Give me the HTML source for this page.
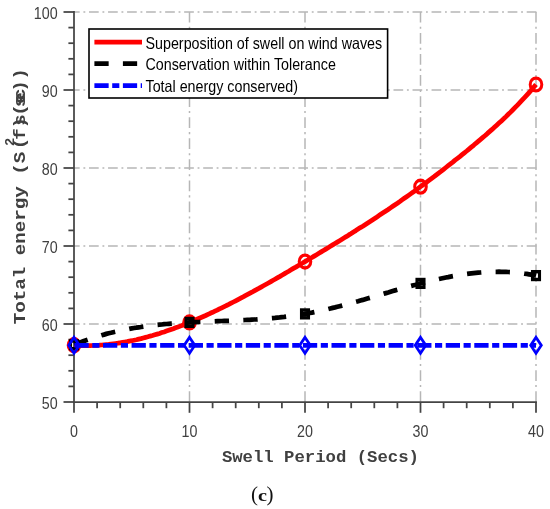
<!DOCTYPE html>
<html><head><meta charset="utf-8"><title>Total energy vs swell period</title>
<style>
html,body{margin:0;padding:0;background:#fff;}
body{width:550px;height:509px;overflow:hidden;}
svg{display:block;}
.tl{font-family:"Liberation Sans",Arial,Helvetica,sans-serif;font-size:14.3px;fill:#404040;}
.lg{font-family:"Liberation Sans",Arial,Helvetica,sans-serif;font-size:14.3px;fill:#000;}
.mono{font-family:"Liberation Mono","Courier New",monospace;font-weight:bold;fill:#404040;}
.cap{font-family:"Liberation Serif","DejaVu Serif",serif;font-size:18px;fill:#111;}
</style></head><body>
<svg width="550" height="509" viewBox="0 0 550 509">
<rect width="550" height="509" fill="#fff"/>

<g stroke="#b6b6b6" stroke-width="1.5" fill="none">
<line x1="189.5" y1="402.0" x2="189.5" y2="12.0" stroke-dasharray="10.75 4.14 2.05 4.14"/>
<line x1="305.0" y1="402.0" x2="305.0" y2="12.0" stroke-dasharray="10.75 4.14 2.05 4.14"/>
<line x1="420.5" y1="402.0" x2="420.5" y2="12.0" stroke-dasharray="10.75 4.14 2.05 4.14"/>
<line x1="536.0" y1="402.0" x2="536.0" y2="12.0" stroke-dasharray="10.75 4.14 2.05 4.14"/>
<line x1="536.4" y1="324.0" x2="74.0" y2="324.0" stroke-dasharray="9.7 3.74 1.85 3.74"/>
<line x1="536.4" y1="246.0" x2="74.0" y2="246.0" stroke-dasharray="9.7 3.74 1.85 3.74"/>
<line x1="536.4" y1="168.0" x2="74.0" y2="168.0" stroke-dasharray="9.7 3.74 1.85 3.74"/>
<line x1="536.4" y1="90.0" x2="74.0" y2="90.0" stroke-dasharray="9.7 3.74 1.85 3.74"/>
<line x1="536.4" y1="12.0" x2="74.0" y2="12.0" stroke-dasharray="9.7 3.74 1.85 3.74"/>
</g>
<g stroke="#444444" stroke-width="1.75" fill="none">
<line x1="74.0" y1="11.1" x2="74.0" y2="402.9"/>
<line x1="73.1" y1="402.0" x2="536.9" y2="402.0"/>
<line x1="63.5" y1="402.0" x2="74.0" y2="402.0"/>
<line x1="68.4" y1="386.4" x2="74.0" y2="386.4"/>
<line x1="68.4" y1="370.8" x2="74.0" y2="370.8"/>
<line x1="68.4" y1="355.2" x2="74.0" y2="355.2"/>
<line x1="68.4" y1="339.6" x2="74.0" y2="339.6"/>
<line x1="63.5" y1="324.0" x2="74.0" y2="324.0"/>
<line x1="68.4" y1="308.4" x2="74.0" y2="308.4"/>
<line x1="68.4" y1="292.8" x2="74.0" y2="292.8"/>
<line x1="68.4" y1="277.2" x2="74.0" y2="277.2"/>
<line x1="68.4" y1="261.6" x2="74.0" y2="261.6"/>
<line x1="63.5" y1="246.0" x2="74.0" y2="246.0"/>
<line x1="68.4" y1="230.4" x2="74.0" y2="230.4"/>
<line x1="68.4" y1="214.8" x2="74.0" y2="214.8"/>
<line x1="68.4" y1="199.2" x2="74.0" y2="199.2"/>
<line x1="68.4" y1="183.6" x2="74.0" y2="183.6"/>
<line x1="63.5" y1="168.0" x2="74.0" y2="168.0"/>
<line x1="68.4" y1="152.4" x2="74.0" y2="152.4"/>
<line x1="68.4" y1="136.8" x2="74.0" y2="136.8"/>
<line x1="68.4" y1="121.2" x2="74.0" y2="121.2"/>
<line x1="68.4" y1="105.6" x2="74.0" y2="105.6"/>
<line x1="63.5" y1="90.0" x2="74.0" y2="90.0"/>
<line x1="68.4" y1="74.4" x2="74.0" y2="74.4"/>
<line x1="68.4" y1="58.8" x2="74.0" y2="58.8"/>
<line x1="68.4" y1="43.2" x2="74.0" y2="43.2"/>
<line x1="68.4" y1="27.6" x2="74.0" y2="27.6"/>
<line x1="63.5" y1="12.0" x2="74.0" y2="12.0"/>
<line x1="74.0" y1="402.0" x2="74.0" y2="412.8"/>
<line x1="97.1" y1="402.0" x2="97.1" y2="408.2"/>
<line x1="120.2" y1="402.0" x2="120.2" y2="408.2"/>
<line x1="143.3" y1="402.0" x2="143.3" y2="408.2"/>
<line x1="166.4" y1="402.0" x2="166.4" y2="408.2"/>
<line x1="189.5" y1="402.0" x2="189.5" y2="412.8"/>
<line x1="212.6" y1="402.0" x2="212.6" y2="408.2"/>
<line x1="235.7" y1="402.0" x2="235.7" y2="408.2"/>
<line x1="258.8" y1="402.0" x2="258.8" y2="408.2"/>
<line x1="281.9" y1="402.0" x2="281.9" y2="408.2"/>
<line x1="305.0" y1="402.0" x2="305.0" y2="412.8"/>
<line x1="328.1" y1="402.0" x2="328.1" y2="408.2"/>
<line x1="351.2" y1="402.0" x2="351.2" y2="408.2"/>
<line x1="374.3" y1="402.0" x2="374.3" y2="408.2"/>
<line x1="397.4" y1="402.0" x2="397.4" y2="408.2"/>
<line x1="420.5" y1="402.0" x2="420.5" y2="412.8"/>
<line x1="443.6" y1="402.0" x2="443.6" y2="408.2"/>
<line x1="466.7" y1="402.0" x2="466.7" y2="408.2"/>
<line x1="489.8" y1="402.0" x2="489.8" y2="408.2"/>
<line x1="512.9" y1="402.0" x2="512.9" y2="408.2"/>
<line x1="536.0" y1="402.0" x2="536.0" y2="412.8"/>
</g>
<path d="M74.0 345.2 L76.3 345.3 L78.6 345.5 L80.9 345.5 L83.2 345.6 L85.5 345.6 L87.9 345.6 L90.2 345.6 L92.5 345.5 L94.8 345.4 L97.1 345.3 L99.4 345.2 L101.7 345.0 L104.0 344.8 L106.3 344.6 L108.7 344.4 L111.0 344.1 L113.3 343.8 L115.6 343.5 L117.9 343.2 L120.2 342.8 L122.5 342.4 L124.8 342.0 L127.1 341.6 L129.4 341.1 L131.8 340.7 L134.1 340.2 L136.4 339.7 L138.7 339.1 L141.0 338.6 L143.3 338.0 L145.6 337.4 L147.9 336.8 L150.2 336.1 L152.5 335.5 L154.8 334.8 L157.2 334.1 L159.5 333.4 L161.8 332.6 L164.1 331.9 L166.4 331.1 L168.7 330.3 L171.0 329.5 L173.3 328.7 L175.6 327.8 L177.9 327.0 L180.3 326.1 L182.6 325.2 L184.9 324.3 L187.2 323.4 L189.5 322.4 L191.8 321.5 L194.1 320.5 L196.4 319.5 L198.7 318.5 L201.1 317.5 L203.4 316.5 L205.7 315.5 L208.0 314.4 L210.3 313.3 L212.6 312.3 L214.9 311.2 L217.2 310.1 L219.5 308.9 L221.8 307.8 L224.2 306.7 L226.5 305.5 L228.8 304.4 L231.1 303.2 L233.4 302.0 L235.7 300.8 L238.0 299.6 L240.3 298.4 L242.6 297.2 L244.9 295.9 L247.2 294.7 L249.6 293.4 L251.9 292.2 L254.2 290.9 L256.5 289.6 L258.8 288.4 L261.1 287.1 L263.4 285.8 L265.7 284.5 L268.0 283.2 L270.4 281.9 L272.7 280.5 L275.0 279.2 L277.3 277.9 L279.6 276.6 L281.9 275.2 L284.2 273.9 L286.5 272.5 L288.8 271.2 L291.1 269.8 L293.4 268.4 L295.8 267.1 L298.1 265.7 L300.4 264.3 L302.7 263.0 L305.0 261.6 L307.3 260.2 L309.6 258.8 L311.9 257.5 L314.2 256.1 L316.6 254.7 L318.9 253.3 L321.2 251.9 L323.5 250.5 L325.8 249.1 L328.1 247.7 L330.4 246.3 L332.7 244.9 L335.0 243.5 L337.3 242.1 L339.6 240.7 L342.0 239.2 L344.3 237.8 L346.6 236.4 L348.9 234.9 L351.2 233.5 L353.5 232.0 L355.8 230.6 L358.1 229.1 L360.4 227.6 L362.8 226.2 L365.1 224.7 L367.4 223.2 L369.7 221.7 L372.0 220.2 L374.3 218.7 L376.6 217.2 L378.9 215.6 L381.2 214.1 L383.5 212.6 L385.9 211.0 L388.2 209.5 L390.5 207.9 L392.8 206.3 L395.1 204.7 L397.4 203.2 L399.7 201.6 L402.0 199.9 L404.3 198.3 L406.6 196.7 L408.9 195.1 L411.3 193.4 L413.6 191.8 L415.9 190.1 L418.2 188.4 L420.5 186.7 L422.8 185.0 L425.1 183.3 L427.4 181.6 L429.7 179.9 L432.1 178.1 L434.4 176.4 L436.7 174.6 L439.0 172.8 L441.3 171.1 L443.6 169.3 L445.9 167.5 L448.2 165.7 L450.5 163.9 L452.8 162.1 L455.1 160.2 L457.5 158.4 L459.8 156.6 L462.1 154.7 L464.4 152.8 L466.7 151.0 L469.0 149.1 L471.3 147.2 L473.6 145.3 L475.9 143.3 L478.2 141.4 L480.6 139.4 L482.9 137.4 L485.2 135.5 L487.5 133.4 L489.8 131.4 L492.1 129.4 L494.4 127.3 L496.7 125.2 L499.0 123.1 L501.4 120.9 L503.7 118.8 L506.0 116.6 L508.3 114.3 L510.6 112.1 L512.9 109.8 L515.2 107.4 L517.5 105.1 L519.8 102.7 L522.1 100.2 L524.5 97.7 L526.8 95.2 L529.1 92.6 L531.4 90.0 L533.7 87.3 L536.0 84.5" fill="none" stroke="#ff0000" stroke-width="4.75" stroke-linejoin="round"/>
<g transform="translate(74.0 345.2) scale(1 1.11)"><circle r="5.8" fill="none" stroke="#ff0000" stroke-width="3"/></g>
<g transform="translate(189.5 322.4) scale(1 1.11)"><circle r="5.8" fill="none" stroke="#ff0000" stroke-width="3"/></g>
<g transform="translate(305.0 261.6) scale(1 1.11)"><circle r="5.8" fill="none" stroke="#ff0000" stroke-width="3"/></g>
<g transform="translate(420.5 186.7) scale(1 1.11)"><circle r="5.8" fill="none" stroke="#ff0000" stroke-width="3"/></g>
<g transform="translate(536.0 84.5) scale(1 1.11)"><circle r="5.8" fill="none" stroke="#ff0000" stroke-width="3"/></g>
<path d="M74.0 344.8 L76.3 343.9 L78.6 343.0 L80.9 342.1 L83.2 341.2 L85.5 340.4 L87.9 339.6 L90.2 338.8 L92.5 338.0 L94.8 337.3 L97.1 336.6 L99.4 335.9 L101.7 335.2 L104.0 334.6 L106.3 333.9 L108.7 333.3 L111.0 332.8 L113.3 332.2 L115.6 331.7 L117.9 331.2 L120.2 330.7 L122.5 330.2 L124.8 329.7 L127.1 329.3 L129.4 328.8 L131.8 328.4 L134.1 328.0 L136.4 327.7 L138.7 327.3 L141.0 327.0 L143.3 326.6 L145.6 326.3 L147.9 326.0 L150.2 325.7 L152.5 325.4 L154.8 325.2 L157.2 324.9 L159.5 324.7 L161.8 324.5 L164.1 324.2 L166.4 324.0 L168.7 323.8 L171.0 323.6 L173.3 323.5 L175.6 323.3 L177.9 323.1 L180.3 323.0 L182.6 322.8 L184.9 322.7 L187.2 322.6 L189.5 322.4 L191.8 322.3 L194.1 322.2 L196.4 322.1 L198.7 322.0 L201.1 321.9 L203.4 321.8 L205.7 321.7 L208.0 321.6 L210.3 321.5 L212.6 321.4 L214.9 321.3 L217.2 321.2 L219.5 321.1 L221.8 321.0 L224.2 320.9 L226.5 320.9 L228.8 320.8 L231.1 320.7 L233.4 320.6 L235.7 320.5 L238.0 320.4 L240.3 320.3 L242.6 320.1 L244.9 320.0 L247.2 319.9 L249.6 319.8 L251.9 319.6 L254.2 319.5 L256.5 319.4 L258.8 319.2 L261.1 319.0 L263.4 318.9 L265.7 318.7 L268.0 318.5 L270.4 318.3 L272.7 318.1 L275.0 317.9 L277.3 317.6 L279.6 317.4 L281.9 317.1 L284.2 316.9 L286.5 316.6 L288.8 316.3 L291.1 316.0 L293.4 315.7 L295.8 315.3 L298.1 315.0 L300.4 314.6 L302.7 314.3 L305.0 313.9 L307.3 313.4 L309.6 313.0 L311.9 312.6 L314.2 312.1 L316.6 311.6 L318.9 311.1 L321.2 310.6 L323.5 310.1 L325.8 309.6 L328.1 309.1 L330.4 308.5 L332.7 307.9 L335.0 307.4 L337.3 306.8 L339.6 306.2 L342.0 305.6 L344.3 305.0 L346.6 304.4 L348.9 303.7 L351.2 303.1 L353.5 302.5 L355.8 301.8 L358.1 301.2 L360.4 300.5 L362.8 299.9 L365.1 299.2 L367.4 298.5 L369.7 297.9 L372.0 297.2 L374.3 296.5 L376.6 295.8 L378.9 295.2 L381.2 294.5 L383.5 293.8 L385.9 293.1 L388.2 292.5 L390.5 291.8 L392.8 291.1 L395.1 290.4 L397.4 289.8 L399.7 289.1 L402.0 288.5 L404.3 287.8 L406.6 287.2 L408.9 286.5 L411.3 285.9 L413.6 285.3 L415.9 284.7 L418.2 284.0 L420.5 283.4 L422.8 282.8 L425.1 282.3 L427.4 281.7 L429.7 281.1 L432.1 280.6 L434.4 280.0 L436.7 279.5 L439.0 279.0 L441.3 278.5 L443.6 278.0 L445.9 277.5 L448.2 277.1 L450.5 276.6 L452.8 276.2 L455.1 275.8 L457.5 275.4 L459.8 275.0 L462.1 274.7 L464.4 274.3 L466.7 274.0 L469.0 273.7 L471.3 273.4 L473.6 273.1 L475.9 272.9 L478.2 272.7 L480.6 272.5 L482.9 272.3 L485.2 272.2 L487.5 272.0 L489.8 271.9 L492.1 271.8 L494.4 271.8 L496.7 271.8 L499.0 271.7 L501.4 271.8 L503.7 271.8 L506.0 271.9 L508.3 272.0 L510.6 272.1 L512.9 272.3 L515.2 272.5 L517.5 272.7 L519.8 273.0 L522.1 273.2 L524.5 273.6 L526.8 273.9 L529.1 274.3 L531.4 274.7 L533.7 275.2 L536.0 275.6" fill="none" stroke="#000" stroke-width="4.75" stroke-dasharray="14.32 14.32" stroke-dashoffset="-0.3"/>
<g transform="translate(74.0 344.8) scale(1 1.11)"><rect x="-3.5" y="-3.5" width="7" height="7" fill="none" stroke="#000" stroke-width="3.1"/></g>
<g transform="translate(189.5 322.4) scale(1 1.11)"><rect x="-3.5" y="-3.5" width="7" height="7" fill="none" stroke="#000" stroke-width="3.1"/></g>
<g transform="translate(305.0 313.9) scale(1 1.11)"><rect x="-3.5" y="-3.5" width="7" height="7" fill="none" stroke="#000" stroke-width="3.1"/></g>
<g transform="translate(420.5 283.4) scale(1 1.11)"><rect x="-3.5" y="-3.5" width="7" height="7" fill="none" stroke="#000" stroke-width="3.1"/></g>
<g transform="translate(536.0 275.6) scale(1 1.11)"><rect x="-3.5" y="-3.5" width="7" height="7" fill="none" stroke="#000" stroke-width="3.1"/></g>
<path d="M74.0 345.3 L536.0 345.3" fill="none" stroke="#0000ff" stroke-width="4.75" stroke-dasharray="14.28 3.57 7.14 3.57" stroke-dashoffset="-0.45"/>
<g transform="translate(74.0 345.3) scale(1 1.11)"><path d="M0 -7.2 L5.3 0 L0 7.2 L-5.3 0 Z" fill="none" stroke="#0000ff" stroke-width="2.7"/></g>
<g transform="translate(189.5 345.3) scale(1 1.11)"><path d="M0 -7.2 L5.3 0 L0 7.2 L-5.3 0 Z" fill="none" stroke="#0000ff" stroke-width="2.7"/></g>
<g transform="translate(305.0 345.3) scale(1 1.11)"><path d="M0 -7.2 L5.3 0 L0 7.2 L-5.3 0 Z" fill="none" stroke="#0000ff" stroke-width="2.7"/></g>
<g transform="translate(420.5 345.3) scale(1 1.11)"><path d="M0 -7.2 L5.3 0 L0 7.2 L-5.3 0 Z" fill="none" stroke="#0000ff" stroke-width="2.7"/></g>
<g transform="translate(536.0 345.3) scale(1 1.11)"><path d="M0 -7.2 L5.3 0 L0 7.2 L-5.3 0 Z" fill="none" stroke="#0000ff" stroke-width="2.7"/></g>
<text class="tl" transform="translate(57.7 408.7) scale(1 1.11)" text-anchor="end" >50</text>
<text class="tl" transform="translate(57.7 330.7) scale(1 1.11)" text-anchor="end" >60</text>
<text class="tl" transform="translate(57.7 252.7) scale(1 1.11)" text-anchor="end" >70</text>
<text class="tl" transform="translate(57.7 174.7) scale(1 1.11)" text-anchor="end" >80</text>
<text class="tl" transform="translate(57.7 96.7) scale(1 1.11)" text-anchor="end" >90</text>
<text class="tl" transform="translate(57.7 18.7) scale(1 1.11)" text-anchor="end" >100</text>
<text class="tl" transform="translate(74.0 436.6) scale(1 1.11)" text-anchor="middle" >0</text>
<text class="tl" transform="translate(189.5 436.6) scale(1 1.11)" text-anchor="middle" >10</text>
<text class="tl" transform="translate(305.0 436.6) scale(1 1.11)" text-anchor="middle" >20</text>
<text class="tl" transform="translate(420.5 436.6) scale(1 1.11)" text-anchor="middle" >30</text>
<text class="tl" transform="translate(536.0 436.6) scale(1 1.11)" text-anchor="middle" >40</text>
<rect x="89" y="29" width="298.6" height="69" fill="#fff" stroke="#000" stroke-width="1.6"/>
<line x1="94.4" y1="42" x2="142" y2="42" stroke="#ff0000" stroke-width="4.75"/>
<line x1="94.4" y1="63.6" x2="142" y2="63.6" stroke="#000" stroke-width="4.75" stroke-dasharray="14.25 14.25"/>
<line x1="94.4" y1="85.5" x2="142" y2="85.5" stroke="#0000ff" stroke-width="4.75" stroke-dasharray="14.25 3.56 7.12 3.56"/>
<text class="lg" transform="translate(145.5 48.7) scale(1 1.11)" text-anchor="start" >Superposition of swell on wind waves</text>
<text class="lg" transform="translate(145.5 70.3) scale(1 1.11)" text-anchor="start" >Conservation within Tolerance</text>
<text class="lg" transform="translate(145.5 91.9) scale(1 1.11)" text-anchor="start" >Total energy conserved)</text>
<text class="mono" font-size="17.3" x="320.4" y="462.4" text-anchor="middle">Swell Period (Secs)</text>
<g transform="translate(25 0) scale(1 1.11) rotate(-90)">
<text class="mono" font-size="17.3" text-anchor="middle" y="0"><tspan x="-286.9" >T</tspan><tspan x="-276.6" >o</tspan><tspan x="-266.2" >t</tspan><tspan x="-255.9" >a</tspan><tspan x="-245.5" >l</tspan><tspan x="-224.8" >e</tspan><tspan x="-214.4" >n</tspan><tspan x="-204.1" >e</tspan><tspan x="-193.7" >r</tspan><tspan x="-183.3" >g</tspan><tspan x="-173.0" >y</tspan><tspan x="-152.3" >(</tspan><tspan x="-141.9" >S</tspan></text>
<text class="mono" font-size="12.5" text-anchor="middle" y="-10.6"><tspan x="-127.7" >2</tspan></text>
<text class="mono" font-size="17.3" text-anchor="middle" y="0"><tspan x="-129.3" >(</tspan><tspan x="-120.7" >f</tspan><tspan x="-110.6" >)</tspan><tspan x="-108.1" >s</tspan><tspan x="-99.1" >(</tspan></text>
<text class="mono" font-size="17.3" text-anchor="middle" y="0"><tspan x="-91.4" >s</tspan><tspan x="-88.2" >e</tspan><tspan x="-85.0" >c</tspan></text>
<text class="mono" font-size="17.3" text-anchor="middle" y="0"><tspan x="-77.5" >)</tspan><tspan x="-66.7" >)</tspan></text>
</g>
<text class="cap" font-size="21" x="251" y="501.2" style="font-size:21px">(</text>
<text class="cap" transform="translate(262.4 500.6) scale(1.16 1)" text-anchor="middle" font-weight="bold" style="font-size:17.4px">c</text>
<text class="cap" x="273.6" y="501.2" text-anchor="end" style="font-size:21px">)</text>
</svg></body></html>
